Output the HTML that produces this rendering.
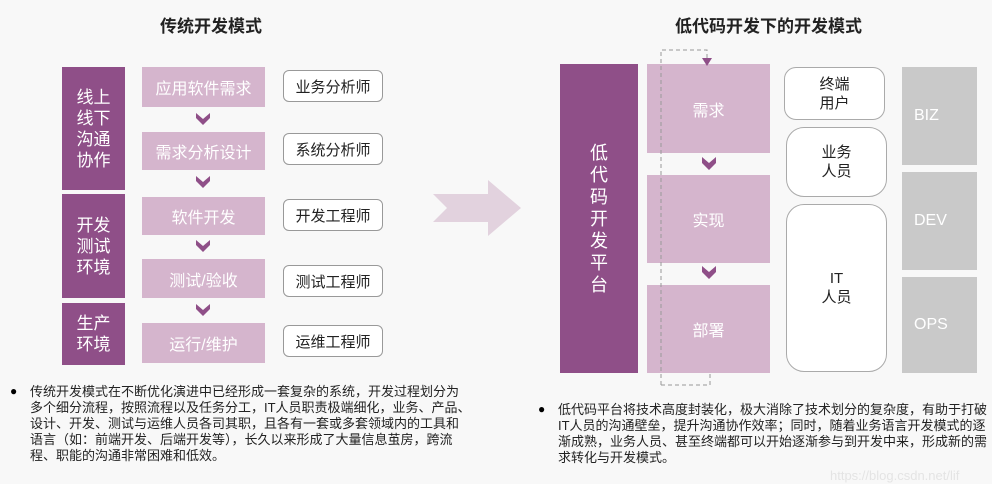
<!DOCTYPE html>
<html><head><meta charset="utf-8"><style>
*{margin:0;padding:0;box-sizing:border-box}
body{width:992px;height:484px;background:#f8f8f8;position:relative;overflow:hidden;font-family:"Liberation Sans","Noto Sans CJK SC",sans-serif}
.a{position:absolute}
.t{font-weight:bold;font-size:17px;color:#222}
.side{background:#8f4f88;color:#fff;font-size:17px;line-height:21px;display:flex;align-items:center;justify-content:center;text-align:center}
.p{background:#d5b5cd;color:#fff;font-size:16px;display:flex;align-items:center;justify-content:center}
.r{background:#fff;border:1px solid #999;border-radius:6px;font-size:15px;color:#222;display:flex;align-items:center;justify-content:center}
.rr{background:#fff;border:1.5px solid #aaa;border-radius:18px;font-size:15px;line-height:19px;color:#222;display:flex;align-items:center;justify-content:center;text-align:center}
.g{background:#c9c9c9;color:#fff;font-size:16px;display:flex;align-items:center;padding-left:12px}
.ln{white-space:nowrap;font-size:13px;line-height:16px;color:#222;overflow:hidden}
</style></head><body>
<div class="a t" style="left:160px;top:12px">传统开发模式</div>
<div class="a t" style="left:675px;top:12px">低代码开发下的开发模式</div>

<div class="a side" style="left:62px;top:67px;width:63px;height:123px">线上<br>线下<br>沟通<br>协作</div>
<div class="a side" style="left:62px;top:194px;width:63px;height:104px">开发<br>测试<br>环境</div>
<div class="a side" style="left:62px;top:303px;width:63px;height:62px">生产<br>环境</div>

<div class="a p" style="left:142px;top:67px;width:123px;height:40px">应用软件需求</div>
<div class="a p" style="left:142px;top:132px;width:123px;height:38px">需求分析设计</div>
<div class="a p" style="left:142px;top:197px;width:123px;height:38px">软件开发</div>
<div class="a p" style="left:142px;top:259px;width:123px;height:39px">测试/验收</div>
<div class="a p" style="left:142px;top:323px;width:123px;height:40px">运行/维护</div>

<svg class="a" style="left:0;top:0" width="992" height="484">
<g fill="#8f4f88">
<path d="M196 113 L203 119 L210 113 L210 118 L203 125 L196 118Z"/>
<path d="M196 176 L203 182 L210 176 L210 181 L203 188 L196 181Z"/>
<path d="M196 240 L203 246 L210 240 L210 245 L203 252 L196 245Z"/>
<path d="M196 304 L203 310 L210 304 L210 309 L203 316 L196 309Z"/>
<path d="M702 157 L709 163 L716 157 L716 163 L709 170 L702 163Z"/>
<path d="M702 266 L709 272 L716 266 L716 272 L709 279 L702 272Z"/>
</g>
<path d="M433 194 L488 194 L488 180 L521 208 L488 236 L488 222 L433 222 L447 208Z" fill="#e2d2de"/>
</svg>

<div class="a r" style="left:283px;top:70px;width:100px;height:32px">业务分析师</div>
<div class="a r" style="left:283px;top:133px;width:100px;height:32px">系统分析师</div>
<div class="a r" style="left:283px;top:199px;width:100px;height:32px">开发工程师</div>
<div class="a r" style="left:283px;top:265px;width:100px;height:32px">测试工程师</div>
<div class="a r" style="left:283px;top:325px;width:100px;height:32px">运维工程师</div>

<div class="a side" style="left:560px;top:64px;width:78px;height:309px;font-size:18px;line-height:22px">低<br>代<br>码<br>开<br>发<br>平<br>台</div>
<div class="a p" style="left:647px;top:64px;width:123px;height:89px">需求</div>
<div class="a p" style="left:647px;top:175px;width:123px;height:88px">实现</div>
<div class="a p" style="left:647px;top:285px;width:123px;height:88px">部署</div>

<svg class="a" style="left:0;top:0" width="992" height="484">
<path d="M661 385 L661 50 L707 50 L707 60" fill="none" stroke="#999" stroke-width="1" stroke-dasharray="4,3"/>
<path d="M702 58 L712 58 L707 66Z" fill="#8f4f88"/>
<path d="M661 385 L710 385 L710 373" fill="none" stroke="#999" stroke-width="1" stroke-dasharray="4,3"/>
</svg>

<div class="a rr" style="left:784px;top:67px;width:101px;height:53px;border-radius:12px">终端<br>用户</div>
<div class="a rr" style="left:786px;top:127px;width:101px;height:70px">业务<br>人员</div>
<div class="a rr" style="left:786px;top:204px;width:101px;height:168px">IT<br>人员</div>

<div class="a g" style="left:902px;top:67px;width:75px;height:98px">BIZ</div>
<div class="a g" style="left:902px;top:172px;width:75px;height:98px">DEV</div>
<div class="a g" style="left:902px;top:277px;width:75px;height:96px">OPS</div>

<div class="a" style="left:10px;top:384px;font-size:12px">●</div>
<div class="a" style="left:30px;top:384px;width:470px">
<div class="ln">传统开发模式在不断优化演进中已经形成一套复杂的系统，开发过程划分为</div>
<div class="ln">多个细分流程，按照流程以及任务分工，IT人员职责极端细化，业务、产品、</div>
<div class="ln">设计、开发、测试与运维人员各司其职，且各有一套或多套领域内的工具和</div>
<div class="ln">语言（如：前端开发、后端开发等），长久以来形成了大量信息茧房，跨流</div>
<div class="ln">程、职能的沟通非常困难和低效。</div>
</div>

<div class="a" style="left:538px;top:402px;font-size:12px">●</div>
<div class="a" style="left:558px;top:402px;width:434px">
<div class="ln">低代码平台将技术高度封装化，极大消除了技术划分的复杂度，有助于打破</div>
<div class="ln">IT人员的沟通壁垒，提升沟通协作效率；同时，随着业务语言开发模式的逐</div>
<div class="ln">渐成熟，业务人员、甚至终端都可以开始逐渐参与到开发中来，形成新的需</div>
<div class="ln">求转化与开发模式。</div>
</div>
<div class="a" style="left:830px;top:468px;font-size:13px;color:#e4e4e4;white-space:nowrap">https://blog.csdn.net/lif</div>
</body></html>
